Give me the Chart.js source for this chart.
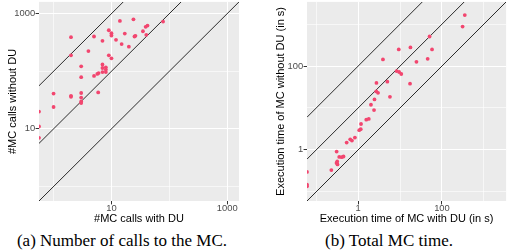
<!DOCTYPE html>
<html>
<head>
<meta charset="utf-8">
<title>MC calls and MC time, with and without DU</title>
<script src="https://cdn.jsdelivr.net/npm/chart.js@4.4.0/dist/chart.umd.min.js"></script>
<style>
  body {
    margin: 0;
    padding: 0;
    background: #fff;
    width: 508px;
    height: 250px;
    position: relative;
    overflow: hidden;
  }
  .panel {
    position: absolute;
    top: 0;
    width: 254px;
    height: 230px;
  }
  .caption {
    position: absolute;
    top: 233px;
    font-family: "Liberation Serif", "DejaVu Serif", "Times New Roman", Times, serif;
    font-size: 15px;
    line-height: 16px;
    white-space: nowrap;
    color: #000;
    transform: translateX(-50%);
  }
</style>
</head>
<body>
  <div class="panel" style="left:0"><canvas id="callsChart" width="254" height="230"></canvas></div>
  <div class="panel" style="left:254px"><canvas id="timeChart" width="254" height="230"></canvas></div>
  <div class="caption" id="capA" style="left:122px">(a) Number of calls to the MC.</div>
  <div class="caption" id="capB" style="left:389px">(b) Total MC time.</div>

<script>
// (a) number of calls to the MC
const callsWithDU = [2, 2, 5, 4, 7, 9, 10, 10, 14, 12, 17, 24, 15, 20, 25, 26, 35, 39, 42, 40, 78,
  9, 10, 3, 3, 7, 7, 8, 8, 8, 7, 6, 5.7, 5, 5.9, 3, 3, 3, 3, 2, 2, 1, 1, 0.56, 0.56, 0.56];
const callsWithoutDU = [390, 189, 401, 224, 338, 515, 458, 418, 748, 352, 452, 798, 296, 267, 401, 413, 495, 590, 621, 430, 728,
  189, 168, 122, 79, 131, 114, 117, 107, 97, 97, 93, 90, 83, 43, 42, 35, 30, 28, 37.5, 36, 41, 24, 20, 11, 7];

// (b) total MC time, in seconds
const timeWithDU = [351, 311, 50.6, 17.7, 9.3, 58, 3.9, 24.6, 45.6, 8.26, 9.5, 10.7, 17.3, 2.73, 4.97,
  2.7, 2.98, 5.73, 2.45, 2.02, 2.39, 1.56, 1.79, 1.17, 1.15, 1.06, 0.835, 0.71, 0.646, 0.531,
  0.306, 0.353, 0.404, 0.446, 0.316, 0.304, 0.321, 0.229, 0.06, 0.06, 0.06];
const timeWithoutDU = [1648, 875, 507, 278, 249, 249, 144, 126, 149, 76, 72, 64.6, 38, 39.5, 42.4,
  24.8, 22.9, 18.4, 16, 11.9, 8.9, 5.24, 5.47, 4.14, 3.11, 2.95, 1.96, 1.66, 1.78, 1.49,
  0.91, 0.675, 0.667, 0.693, 0.528, 0.486, 0.448, 0.328, 0.297, 0.148, 0.135];

// reference lines y = x, y = 10x, y = 100x
const diagonalFactors = [1, 10, 100];

// axis ranges and breaks
const callsRange = [0.56, 1600];
const callsMajor = [10, 1000];
const callsMinor = [1, 100];
const timeRange = [0.06, 3400];
const timeMajor = [1, 100];
const timeMinor = [0.1, 10, 1000];

Chart.defaults.font.family = "'Liberation Sans', Arial, sans-serif";

const panelBackground = {
  id: 'panelBackground',
  beforeDraw(chart) {
    const a = chart.chartArea;
    const ctx = chart.ctx;
    ctx.save();
    ctx.fillStyle = '#ebebeb';
    ctx.fillRect(a.left, a.top, a.right - a.left, a.bottom - a.top);
    ctx.restore();
  }
};

function makeChart(canvasId, xs, ys, range, major, minor, xTitle, yTitle, yAxisWidth, yTitleGap, rightPad) {
  const points = xs.map((x, i) => ({ x: x, y: ys[i] }));
  const tickValues = minor.concat(major).sort((a, b) => a - b);
  const isMajor = v => major.indexOf(v) !== -1;

  const lines = diagonalFactors.map(f => ({
    type: 'line',
    data: [{ x: range[0], y: range[0] * f }, { x: range[1], y: range[1] * f }],
    borderColor: '#2b2b2b',
    borderWidth: 1,
    pointRadius: 0,
    fill: false,
    clip: 0
  }));

  function axis(title, isX) {
    return {
      type: 'logarithmic',
      min: range[0],
      max: range[1],
      afterBuildTicks: s => { s.ticks = tickValues.map(v => ({ value: v })); },
      afterFit: s => {
        if (isX) {
          s.height = 29;
          s.paddingLeft = 0;
          s.paddingRight = 0;
        } else {
          s.width = yAxisWidth;
          s.paddingTop = 0;
          s.paddingBottom = 0;
        }
      },
      border: { display: false },
      grid: {
        color: '#ffffff',
        lineWidth: c => (c.tick && isMajor(c.tick.value)) ? 1 : 0.6,
        drawTicks: true,
        tickLength: 3.4,
        tickWidth: 1,
        tickColor: c => (c.tick && isMajor(c.tick.value)) ? '#333333' : 'rgba(0,0,0,0)'
      },
      ticks: {
        autoSkip: false,
        maxRotation: 0,
        minRotation: 0,
        padding: isX ? -1 : 0.4,
        color: '#4d4d4d',
        font: { size: 9.4, lineHeight: 1 },
        callback: v => isMajor(v) ? String(v) : ''
      },
      title: {
        display: true,
        text: title,
        color: '#000000',
        font: { size: 11 },
        padding: isX ? { top: 0, bottom: 4.4 } : { top: yTitleGap, bottom: 0 }
      }
    };
  }

  return new Chart(document.getElementById(canvasId), {
    type: 'scatter',
    data: {
      datasets: [{
        data: points,
        backgroundColor: '#f2466f',
        borderWidth: 0,
        pointRadius: 1.9,
        pointHoverRadius: 1.9,
        clip: 0
      }].concat(lines)
    },
    options: {
      responsive: false,
      animation: false,
      devicePixelRatio: 1,
      layout: { padding: { left: 0, top: 0, right: rightPad, bottom: 0 } },
      plugins: {
        legend: { display: false },
        tooltip: { enabled: false }
      },
      scales: {
        x: axis(xTitle, true),
        y: axis(yTitle, false)
      }
    },
    plugins: [panelBackground]
  });
}

makeChart('callsChart', callsWithDU, callsWithoutDU, callsRange, callsMajor, callsMinor,
  '#MC calls with DU', '#MC calls without DU', 39, 6.2, 15);
makeChart('timeChart', timeWithDU, timeWithoutDU, timeRange, timeMajor, timeMinor,
  'Execution time of MC with DU (in s)', 'Execution time of MC without DU (in s)', 53, 20.4, 0);

// size the serif captions so caption (a) is as wide as in the figure
const capA = document.getElementById('capA');
const capB = document.getElementById('capB');
const capSize = Math.max(10, Math.min(17, 15 * 218 / capA.getBoundingClientRect().width));
capA.style.fontSize = capSize + 'px';
capB.style.fontSize = capSize + 'px';
</script>
</body>
</html>
